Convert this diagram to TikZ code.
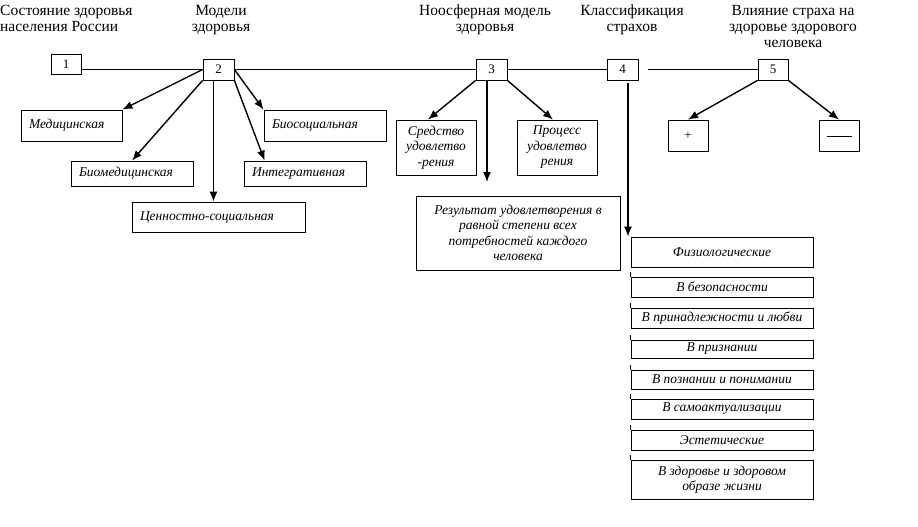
\documentclass[tikz,border=0pt]{standalone}
\usepackage{fontspec}
\setmainfont{Liberation Serif}
\usetikzlibrary{positioning, arrows, arrows.meta}
\tikzset{
    >={Latex[length=10pt, width=8pt]}, % filled arrow heads
    x=1pt, y=-1pt, % one unit is one pixel of the sketch, y runs down
}

\begin{document}
\begin{tikzpicture}[
                                styleTitle/.style={font=\fontsize{15.5}{16}\selectfont, align=center, inner sep=1pt},
                                styleNum/.style={draw, line width=0.8pt, font=\fontsize{13}{15}\selectfont, inner sep=0pt},
                                styleBox/.style={draw, line width=0.8pt, font=\itshape\fontsize{13.5}{15.5}\selectfont, inner sep=0pt, align=center},
                                styleLeft/.style={styleBox, align=left, inner xsep=8pt},
                                styleArrow/.style={->, line width=1.4pt},
                            ]
                            \useasboundingbox (0,0) rectangle (918,527);
                            % titles
                            \node[styleTitle, anchor=north west, align=left] (t1) at (-1,4) {Состояние здоровья\\населения России};
                            \node[styleTitle, anchor=north] (t2) at (221,4) {Модели\\здоровья};
                            \node[styleTitle, anchor=north] (t3) at (485,4) {Ноосферная модель\\здоровья};
                            \node[styleTitle, anchor=north] (t4) at (632,4) {Классификация\\страхов};
                            \node[styleTitle, anchor=north] (t5) at (793,4) {Влияние страха на\\здоровье здорового\\человека};
                            % numbered boxes
                            \node[styleNum, minimum width=30, minimum height=20] (n1) at (66,64) {1};
                            \node[styleNum, minimum width=31, minimum height=21] (n2) at (218.5,69.5) {2};
                            \node[styleNum, minimum width=31, minimum height=21] (n3) at (491.5,69.5) {3};
                            \node[styleNum, minimum width=31, minimum height=21] (n4) at (622.5,69.5) {4};
                            \node[styleNum, minimum width=30, minimum height=21] (n5) at (773,69.5) {5};
                            \coordinate (gap) at (648,69.5);
                            % models of health
                            \node[styleLeft, text width=85, minimum height=31] (med) at (71.5,125.5) {Медицинская};
                            \node[styleLeft, text width=106, minimum height=25] (biomed) at (132,173.5) {Биомедицинская};
                            \node[styleLeft, text width=157, minimum height=30] (cennost) at (218.5,217) {Ценностно-социальная};
                            \node[styleLeft, text width=106, minimum height=31] (biosoc) at (325,125.5) {Биосоциальная};
                            \node[styleLeft, text width=106, minimum height=25] (integr) at (305,173.5) {Интегративная};
                            % noosphere model
                            \node[styleBox, minimum width=80, minimum height=55] (sredstvo) at (436,147.5) {Средство\\удовлетво\\-рения};
                            \node[styleBox, minimum width=80, minimum height=55] (process) at (557,147.5) {Процесс\\удовлетво\\рения};
                            \node[styleBox, minimum width=204, minimum height=74] (result) at (518,233) {Результат удовлетворения в\\равной степени всех\\потребностей каждого\\человека};
                            \coordinate (resTip) at (487,182);
                            % fear
                            \node[styleNum, minimum width=40, minimum height=31] (plus) at (688,135.5) {+};
                            \node[styleNum, minimum width=40, minimum height=31] (minus) at (839,135.5) {\rule[-3pt]{25pt}{0.9pt}\hspace{8pt}};
                            % classification of fears
                            \node[styleBox, minimum width=182, minimum height=30] (f1) at (722,252) {Физиологические};
                            \node[styleBox, minimum width=182, minimum height=20] (f2) at (722,287) {В безопасности};
                            \node[styleBox, minimum width=182, minimum height=20] (f3) at (722,318) {В принадлежности и любви};
                            \node[styleBox, minimum width=182, minimum height=18] (f4) at (722,349) {В признании};
                            \node[styleBox, minimum width=182, minimum height=19] (f5) at (722,379.5) {В познании и понимании};
                            \node[styleBox, minimum width=182, minimum height=20] (f6) at (722,409) {В самоактуализации};
                            \node[styleBox, minimum width=182, minimum height=20] (f7) at (722,440) {Эстетические};
                            \node[styleBox, minimum width=182, minimum height=39] (f8) at (722,479.5) {В здоровье и здоровом\\образе жизни};
                            \coordinate (c4) at (628,83);

                            \draw[line width=0.8pt]
                            (n2.west -| n1.east) -- (n2.west)
                            (n2) -- (n3)
                            (n3) -- (n4)
                            (gap) -- (n5);

                            \draw[styleArrow] (n2.west) -- (med.north east);
                            \draw[styleArrow] (n2.south west) -- (biomed.north);
                            \draw[styleArrow] ([xshift=-5pt]n2.south) -- ([xshift=-5pt]cennost.north);
                            \draw[styleArrow] (n2.east) -- (biosoc.north west);
                            \draw[styleArrow] (n2.south east) -- ([xshift=21pt]integr.north west);

                            \draw[styleArrow] (n3.south west) -- ([xshift=-8pt]sredstvo.north);
                            \draw[styleArrow] ([xshift=-4.5pt]n3.south) -- (resTip);
                            \draw[styleArrow] (n3.south east) -- ([xshift=-4pt]process.north);

                            \draw[styleArrow] (n5.south west) -- (plus.north);
                            \draw[styleArrow] (n5.south east) -- (minus.north);

                            \draw[styleArrow] (c4) -- (c4 |- f1.north);
                            \foreach \f in {f2,f3,f4,f5,f6,f7,f8}
                                \draw[line width=0.8pt] (\f.north west) -- ++(0,-5);
                        \end{tikzpicture}
\end{document}
